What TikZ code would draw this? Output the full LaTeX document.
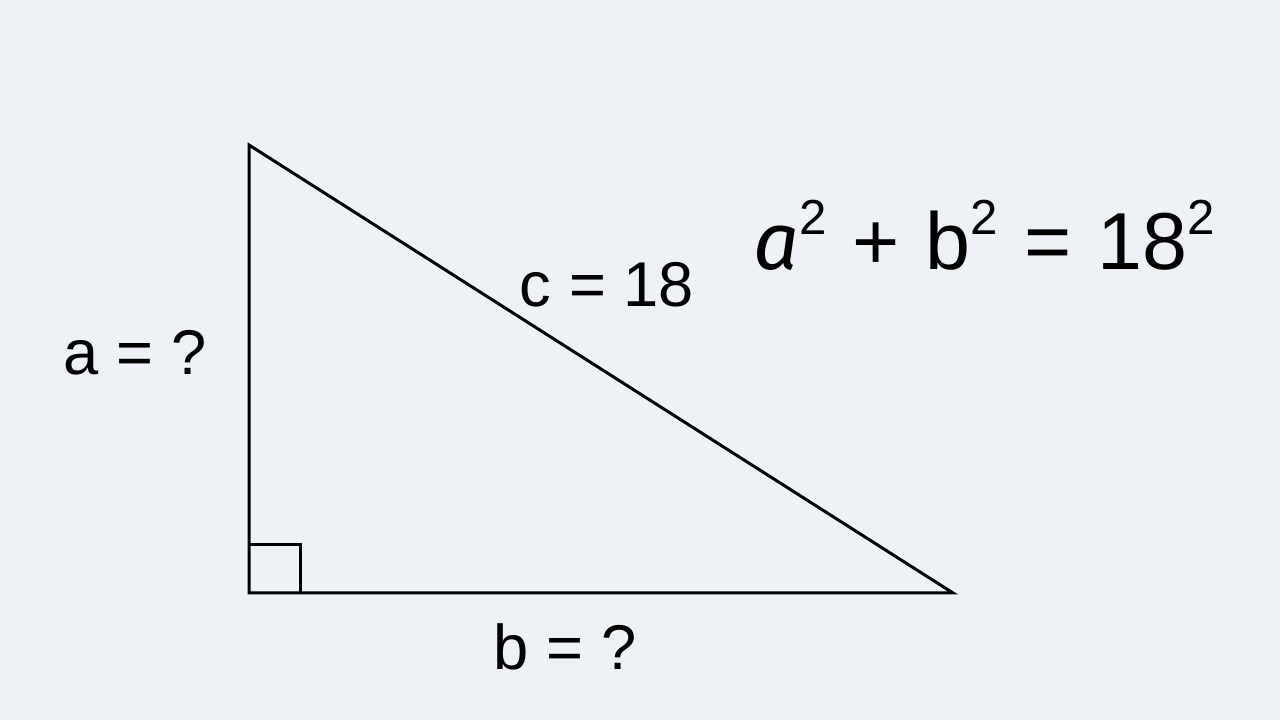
\documentclass[tikz,border=0pt]{standalone}
\usepackage{fontspec}
\setmainfont{Liberation Sans}
\newfontfamily\firafont{Fira Sans}
\definecolor{paper}{RGB}{238,241,246}
\newcommand{\sqr}{\raisebox{10pt}{\fontsize{14}{14}\selectfont 2}}
\newcommand{\gap}{\hspace{0.32em}}
\tikzset{
  side/.style={line width=0.85pt, black},
  lbl/.style={anchor=base, inner sep=0pt, font=\fontsize{18}{20}\selectfont},
  eqn/.style={anchor=base, inner sep=0pt, font=\fontsize{23}{26}\selectfont}
}
\begin{document}
\begin{tikzpicture}
                \fill [paper] (0,0) rectangle (12.8,7.2);
                \useasboundingbox (0,0) rectangle (12.8,7.2);
                \coordinate (top) at (2.49,5.75);
                \coordinate (corner) at (2.49,1.27);
                \coordinate (right) at (9.53,1.27);
                \draw [side] (top)--(corner)--(right)--cycle;
                \draw [side] (2.49,1.75)--(3.00,1.75)--(3.00,1.27);
                \node [lbl] (sidea) at (1.35,3.45) {a = ?};
                \node [lbl] (sideb) at (5.65,0.50) {b = ?};
                \node [lbl] (sidec) at (6.07,4.13) {c = 18};
                \node [eqn] (pyth) at (9.84,4.50) {{\firafont\itshape a}\sqr\gap+\gap b\sqr\gap=\gap 18\sqr};
\end{tikzpicture}
\end{document}
